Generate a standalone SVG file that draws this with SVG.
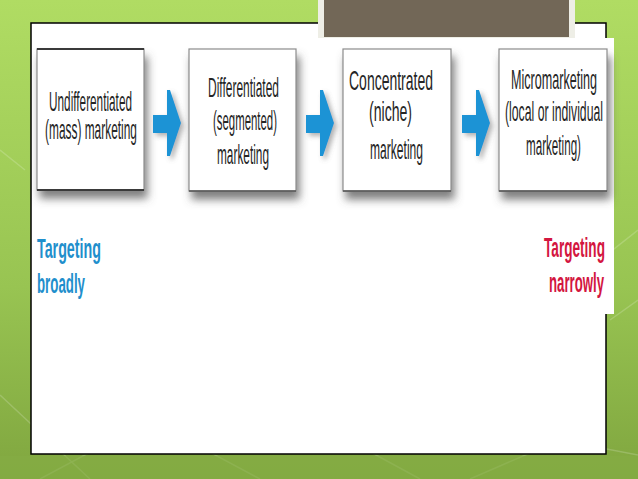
<svg xmlns="http://www.w3.org/2000/svg" width="638" height="479" viewBox="0 0 638 479">
  <style>
    .box { fill: #ffffff; stroke: #8c8c8c; stroke-width: 1.2; }
    .edge { stroke: #3a3a3a; stroke-width: 2; }
    .lbl { font-family: "Liberation Sans", Arial, sans-serif; font-size: 27.5px; fill: #262626; text-anchor: middle; }
    .tgt { font-family: "Liberation Sans", Arial, sans-serif; font-size: 27px; font-weight: bold; }
    .blue { fill: #1f8fcc; }
    .red { fill: #d3163f; text-anchor: end; }
    .arrow { fill: #1b93d5; }
    .bgline { stroke: #ffffff; stroke-opacity: 0.18; stroke-width: 1.5; fill: none; }
  </style>
  <defs>
    <linearGradient id="bg" x1="0" y1="0" x2="0" y2="1">
      <stop offset="0" stop-color="#b0dc63"/>
      <stop offset="0.6" stop-color="#98c452"/>
      <stop offset="1" stop-color="#80a63f"/>
    </linearGradient>
    <filter id="shadow" x="-20%" y="-20%" width="150%" height="160%">
      <feGaussianBlur in="SourceAlpha" stdDeviation="4"/>
      <feOffset dx="3" dy="8" result="b"/>
      <feFlood flood-color="#555555" flood-opacity="0.75"/>
      <feComposite in2="b" operator="in"/>
      <feMerge><feMergeNode/><feMergeNode in="SourceGraphic"/></feMerge>
    </filter>
    <filter id="ashadow" x="-30%" y="-20%" width="180%" height="150%">
      <feGaussianBlur in="SourceAlpha" stdDeviation="2.5"/>
      <feOffset dx="3" dy="3" result="b"/>
      <feFlood flood-color="#666666" flood-opacity="0.5"/>
      <feComposite in2="b" operator="in"/>
      <feMerge><feMergeNode/><feMergeNode in="SourceGraphic"/></feMerge>
    </filter>
    <polygon id="arr" points="153,115 167,115 167,90 170,90 181,123 170,156 167,156 167,133 153,133"/>
  </defs>

  <!-- background -->
  <rect x="0" y="0" width="638" height="479" fill="url(#bg)"/>
  <path class="bgline" d="M0,395 L90,479 M40,479 L150,420 L260,479 M330,430 L420,479 M470,479 L560,440 L638,455 M600,260 L638,230 M610,320 L638,300 M0,150 L25,170"/>
  <rect x="0" y="456" width="638" height="23" fill="#86ad45" opacity="0.6"/>

  <!-- white panel with black frame -->
  <rect x="31" y="23" width="575" height="431" fill="#ffffff" stroke="#000000" stroke-width="1.5"/>

  <!-- title placeholder block -->
  <rect x="318" y="0" width="257" height="38" fill="#eeeee6"/>
  <rect x="324" y="0" width="245" height="37" fill="#726757"/>

  <!-- pasted picture area, overlapping the frame edge -->
  <rect x="300" y="38" width="314" height="276" fill="#ffffff"/>

  <!-- nodes -->
  <g id="node-undifferentiated">
    <rect class="box" x="37" y="49" width="107" height="141" filter="url(#shadow)"/>
    <line class="edge" x1="37" y1="49" x2="144" y2="49"/>
    <line class="edge" x1="37" y1="190" x2="144" y2="190"/>
    <text class="lbl" transform="translate(90.5,111) scale(0.45,1)" textLength="184.4" lengthAdjust="spacingAndGlyphs">Undifferentiated</text>
    <text class="lbl" transform="translate(91,139) scale(0.45,1)" textLength="204.4" lengthAdjust="spacingAndGlyphs">(mass) marketing</text>
  </g>

  <g id="node-differentiated">
    <rect class="box" x="189" y="49" width="107" height="142" filter="url(#shadow)"/>
    <line class="edge" x1="189" y1="191" x2="296" y2="191" style="stroke:#555555;stroke-width:1.5"/>
    <text class="lbl" transform="translate(243.5,97) scale(0.45,1)" textLength="157.8" lengthAdjust="spacingAndGlyphs">Differentiated</text>
    <text class="lbl" transform="translate(245,130) scale(0.45,1)" textLength="142.2" lengthAdjust="spacingAndGlyphs">(segmented)</text>
    <text class="lbl" transform="translate(243,164) scale(0.45,1)" textLength="115.6" lengthAdjust="spacingAndGlyphs">marketing</text>
  </g>

  <g id="node-concentrated">
    <rect class="box" x="343" y="49" width="108" height="142" filter="url(#shadow)"/>
    <line class="edge" x1="343" y1="191" x2="451" y2="191" style="stroke:#555555;stroke-width:1.5"/>
    <text class="lbl" transform="translate(391,90) scale(0.45,1)" textLength="186.7" lengthAdjust="spacingAndGlyphs">Concentrated</text>
    <text class="lbl" transform="translate(390.5,121) scale(0.45,1)" textLength="95.6" lengthAdjust="spacingAndGlyphs">(niche)</text>
    <text class="lbl" transform="translate(396.5,159) scale(0.45,1)" textLength="117.8" lengthAdjust="spacingAndGlyphs">marketing</text>
  </g>

  <g id="node-micromarketing">
    <rect class="box" x="499" y="49" width="108" height="142" filter="url(#shadow)"/>
    <line class="edge" x1="499" y1="191" x2="607" y2="191" style="stroke:#555555;stroke-width:1.5"/>
    <text class="lbl" transform="translate(554,89) scale(0.45,1)" textLength="191.1" lengthAdjust="spacingAndGlyphs">Micromarketing</text>
    <text class="lbl" transform="translate(554,121) scale(0.45,1)" textLength="217.8" lengthAdjust="spacingAndGlyphs">(local or individual</text>
    <text class="lbl" transform="translate(553.5,155) scale(0.45,1)" textLength="122.2" lengthAdjust="spacingAndGlyphs">marketing)</text>
  </g>

  <!-- connectors -->
  <g id="connectors">
    <use href="#arr" class="arrow" filter="url(#ashadow)"/>
    <use href="#arr" class="arrow" filter="url(#ashadow)" transform="translate(153,0)"/>
    <use href="#arr" class="arrow" filter="url(#ashadow)" transform="translate(309,0)"/>
  </g>

  <!-- end labels -->
  <g id="label-broadly">
    <text class="tgt blue" transform="translate(37,258) scale(0.52,1)" textLength="123" lengthAdjust="spacingAndGlyphs">Targeting</text>
    <text class="tgt blue" transform="translate(37,293) scale(0.52,1)" textLength="92.3" lengthAdjust="spacingAndGlyphs">broadly</text>
  </g>
  <g id="label-narrowly">
    <text class="tgt red" transform="translate(605,257) scale(0.52,1)" textLength="117.3" lengthAdjust="spacingAndGlyphs">Targeting</text>
    <text class="tgt red" transform="translate(604,292) scale(0.52,1)" textLength="105.8" lengthAdjust="spacingAndGlyphs">narrowly</text>
  </g>
</svg>
